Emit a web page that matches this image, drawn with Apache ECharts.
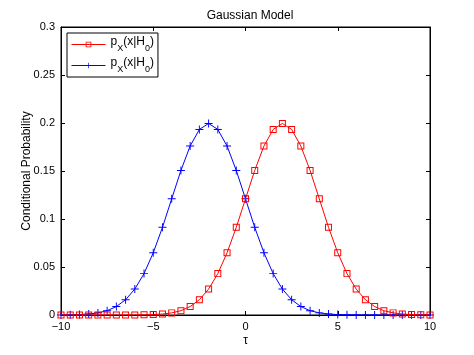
<!DOCTYPE html>
<html><head><meta charset="utf-8">
<script src="https://cdn.jsdelivr.net/npm/echarts@6/dist/echarts.min.js"></script>
<style>html,body{margin:0;padding:0;background:#fff}#c{width:474px;height:355px}</style>
</head><body><div id="c"></div>
<script>
const tau = [-10,-9.5,-9,-8.5,-8,-7.5,-7,-6.5,-6,-5.5,-5,-4.5,-4,-3.5,-3,-2.5,-2,-1.5,-1,-0.5,0,0.5,1,1.5,2,2.5,3,3.5,4,4.5,5,5.5,6,6.5,7,7.5,8,8.5,9,9.5,10];
const redVals = [0,0,0,0,0.000001,0.000002,0.000008,0.000024,0.00007,0.00018,0.00044,0.0010,0.0022,0.0045,0.0088,0.0159,0.0270,0.0431,0.0648,0.0913,0.1210,0.1506,0.1760,0.1933,0.1995,0.1933,0.1760,0.1506,0.1210,0.0913,0.0648,0.0431,0.0270,0.0159,0.0088,0.0045,0.0022,0.0010,0.00044,0.00018,0.00007];
const blueVals = [0.00007,0.00018,0.00044,0.0010,0.0022,0.0045,0.0088,0.0159,0.0270,0.0431,0.0648,0.0913,0.1210,0.1506,0.1760,0.1933,0.1995,0.1933,0.1760,0.1506,0.1210,0.0913,0.0648,0.0431,0.0270,0.0159,0.0088,0.0045,0.0022,0.0010,0.00044,0.00018,0.00007,0.000024,0.000008,0.000002,0.000001,0,0,0,0];
const seriesNames = ['red','blue'];
const titleText = 'Gaussian Model';
const xLabel = 'τ';
const yLabel = 'Conditional Probability';

const FONT = 'Liberation Sans, Arial, sans-serif';
const plus = 'path://M4.4,0H5.6V4.4H10V5.6H5.6V10H4.4V5.6H0V4.4H4.4Z';
const square = 'path://M0,0H10V10H0Z M1.4,1.4V8.6H8.6V1.4Z';
const chart = echarts.init(document.getElementById('c'));
const axisLineStyle = {show:true, onZero:false, lineStyle:{color:'#000', width:1}};
const tickStyle = {show:true, inside:true, length:4, lineStyle:{color:'#000'}};
chart.setOption({
  animation:false,
  title:{text:titleText, left:245, top:5, textAlign:'center', textStyle:{fontFamily:FONT, fontSize:12, fontWeight:'normal', color:'#000'}},
  grid:{left:61, right:44, top:27, bottom:40, show:true, borderColor:'#000', borderWidth:1},
  legend:{
    left:67, top:33, orient:'vertical', itemWidth:34, itemHeight:7, itemGap:4,
    lineStyle:{width:1},
    backgroundColor:'#fff', borderColor:'#000', borderWidth:1, padding:[3,4,3,4],
    formatter: function(){ return '{n|p}{s|X}{n|(x|H}{s|0}{n|)}'; },
    textStyle:{fontFamily:FONT, color:'#000', rich:{
      n:{fontSize:12, fontFamily:FONT, color:'#000', lineHeight:17, verticalAlign:'top'},
      s:{fontSize:9, fontFamily:FONT, color:'#000', lineHeight:17, verticalAlign:'bottom'}
    }},
    data:seriesNames
  },
  xAxis:[{
    type:'value', min:-10, max:10, interval:5,
    name:xLabel, nameLocation:'middle', nameGap:20, nameMoveOverlap:false, nameTextStyle:{fontFamily:FONT, fontSize:12, color:'#000'},
    axisLine:axisLineStyle, axisTick:tickStyle, splitLine:{show:false},
    axisLabel:{fontFamily:FONT, fontSize:11, color:'#000', margin:6, formatter:v=>String(v).replace('-','\u2212')}
  },{
    type:'value', min:-10, max:10, interval:5, position:'top',
    axisLine:axisLineStyle, axisTick:tickStyle, axisLabel:{show:false}, splitLine:{show:false}
  }],
  yAxis:[{
    type:'value', min:0, max:0.3, interval:0.05,
    name:yLabel, nameLocation:'middle', nameGap:28, nameMoveOverlap:false, nameTextStyle:{fontFamily:FONT, fontSize:12, color:'#000'},
    axisLine:axisLineStyle, axisTick:tickStyle, splitLine:{show:false},
    axisLabel:{fontFamily:FONT, fontSize:11, color:'#000', margin:6}
  },{
    type:'value', min:0, max:0.3, interval:0.05, position:'right',
    axisLine:axisLineStyle, axisTick:tickStyle, axisLabel:{show:false}, splitLine:{show:false}
  }],
  series:[
    {name:seriesNames[0], type:'line', data:tau.map((t,i)=>[t,redVals[i]]), symbol:square, symbolSize:7,
     itemStyle:{color:'#ff0000'}, lineStyle:{color:'#ff0000', width:1}, z:3},
    {name:seriesNames[1], type:'line', data:tau.map((t,i)=>[t,blueVals[i]]), symbol:plus, symbolSize:8,
     itemStyle:{color:'#0000ff'}, lineStyle:{color:'#0000ff', width:1}, z:2}
  ]
});
</script></body></html>
